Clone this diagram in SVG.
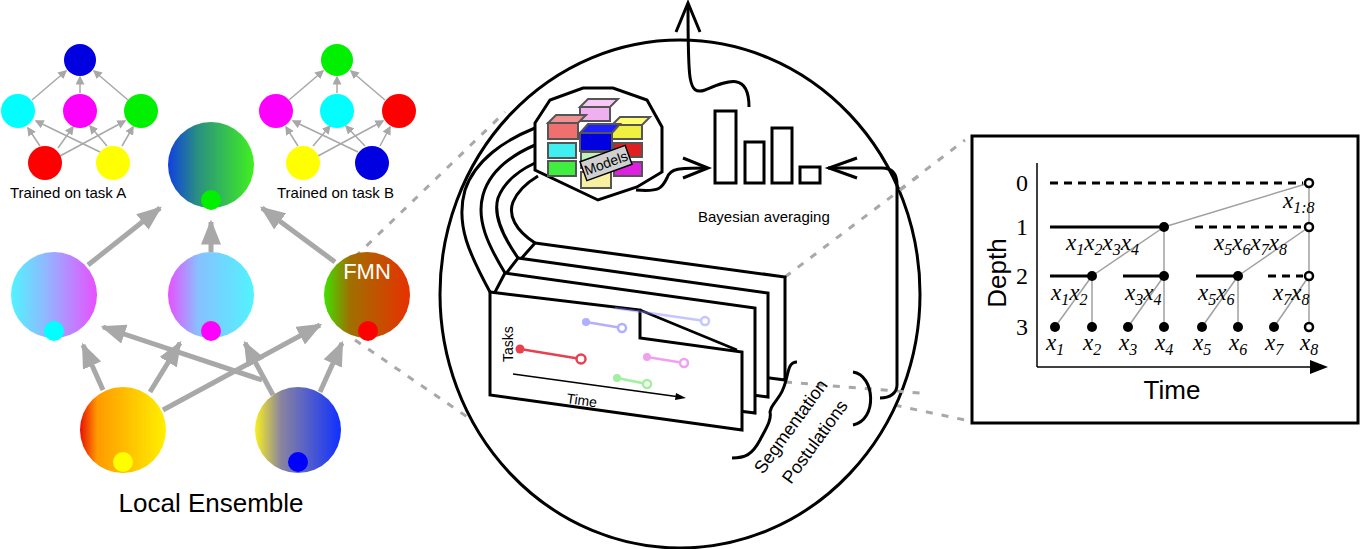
<svg xmlns="http://www.w3.org/2000/svg" width="1363" height="549" viewBox="0 0 1363 549">
<style>
.sa{stroke:#a8a8a8;stroke-width:1.5;fill:none}
.ba{stroke:#a8a8a8;stroke-width:5;fill:none}
.k{stroke:#000;fill:none;stroke-width:3}
.pg{fill:#fff;stroke:#000;stroke-width:3;stroke-linejoin:miter}
.dash{stroke:#a8a8a8;stroke-width:3;stroke-dasharray:7 9;fill:none}
.t{font-family:"Liberation Sans",Arial,sans-serif}
.m{font-family:"Liberation Serif","Times New Roman",serif;font-style:italic;font-size:23px}
.n{font-family:"Liberation Serif","Times New Roman",serif;font-size:24px}
.g{stroke:#a0a0a0;stroke-width:1.5}
.cb{stroke:#555;stroke-width:2}
</style>
<defs>
<marker id="sah" markerWidth="6" markerHeight="6" refX="5" refY="3" orient="auto" markerUnits="strokeWidth"><path d="M0,0 L6,3 L0,6 Z" fill="#a8a8a8"/></marker>
<marker id="bah" markerWidth="5" markerHeight="4" refX="4.5" refY="2" orient="auto" markerUnits="strokeWidth"><path d="M0,0 L5,2 L0,4 Z" fill="#a8a8a8"/></marker>
<linearGradient id="gTop"><stop offset="0" stop-color="#1040e0"/><stop offset="0.35" stop-color="#2a9080"/><stop offset="1" stop-color="#40f020"/></linearGradient>
<linearGradient id="gML"><stop offset="0" stop-color="#50f4ff"/><stop offset="0.4" stop-color="#90b8ff"/><stop offset="1" stop-color="#e850ff"/></linearGradient>
<linearGradient id="gMM"><stop offset="0" stop-color="#e850ff"/><stop offset="0.35" stop-color="#88c0ff"/><stop offset="1" stop-color="#50f4ff"/></linearGradient>
<linearGradient id="gMR"><stop offset="0" stop-color="#40e000"/><stop offset="0.3" stop-color="#a07000"/><stop offset="1" stop-color="#e83000"/></linearGradient>
<linearGradient id="gBL"><stop offset="0" stop-color="#e81000"/><stop offset="0.2" stop-color="#ff9a00"/><stop offset="1" stop-color="#fff000"/></linearGradient>
<linearGradient id="gBR"><stop offset="0" stop-color="#f8f020"/><stop offset="0.3" stop-color="#8a84a0"/><stop offset="1" stop-color="#1030ff"/></linearGradient>
</defs>
<rect width="1363" height="549" fill="#fff"/>

<g id="zoomlines">
<line class="dash" x1="355" y1="257" x2="505" y2="112"/>
<line class="dash" x1="355" y1="340" x2="495" y2="436"/>
<line class="dash" x1="785" y1="277" x2="965" y2="140"/>
<line class="dash" x1="785" y1="382" x2="965" y2="420"/>
</g>

<g id="connectors">
<g class="sa" marker-end="url(#sah)">
<line x1="32" y1="100" x2="66" y2="71"/><line x1="80" y1="93" x2="80" y2="77"/><line x1="128" y1="100" x2="94" y2="71"/>
<line x1="40" y1="146" x2="28" y2="128"/><line x1="58" y1="148" x2="73" y2="127"/><line x1="60" y1="156" x2="125" y2="121"/>
<line x1="100" y1="152" x2="36" y2="121"/><line x1="107" y1="146" x2="90" y2="126"/><line x1="122" y1="146" x2="133" y2="127"/>
<line x1="289" y1="100" x2="323" y2="71"/><line x1="337" y1="93" x2="337" y2="77"/><line x1="385" y1="100" x2="351" y2="71"/>
<line x1="298" y1="146" x2="286" y2="127"/><line x1="313" y1="146" x2="330" y2="126"/><line x1="318" y1="156" x2="383" y2="121"/>
<line x1="358" y1="152" x2="293" y2="121"/><line x1="365" y1="146" x2="346" y2="126"/><line x1="380" y1="146" x2="390" y2="127"/>
</g>
<g class="ba" marker-end="url(#bah)">
<line x1="88" y1="265" x2="160" y2="208"/>
<line x1="211" y1="252" x2="211" y2="222"/>
<line x1="335" y1="262" x2="262" y2="208"/>
<line x1="103" y1="390" x2="83" y2="345"/>
<line x1="262" y1="380" x2="103" y2="327"/>
<line x1="150" y1="392" x2="180" y2="343"/>
<line x1="273" y1="395" x2="245" y2="343"/>
<line x1="163" y1="410" x2="320" y2="325"/>
<line x1="320" y1="392" x2="342" y2="343"/>
</g>
</g>

<g id="smallA">
<circle cx="80" cy="60" r="16" fill="#0000e0"/>
<circle cx="18" cy="111" r="17" fill="#00ffff"/>
<circle cx="80" cy="111" r="17" fill="#ff00ff"/>
<circle cx="141" cy="111" r="17" fill="#00f000"/>
<circle cx="45" cy="163" r="17" fill="#ff0000"/>
<circle cx="113" cy="163" r="17" fill="#ffff00"/>
<text class="t" x="10" y="198" font-size="15">Trained on task A</text>
</g>
<g id="smallB">
<circle cx="337" cy="60" r="16" fill="#00f000"/>
<circle cx="276" cy="111" r="17" fill="#ff00ff"/>
<circle cx="337" cy="111" r="17" fill="#00ffff"/>
<circle cx="399" cy="111" r="17" fill="#ff0000"/>
<circle cx="303" cy="163" r="17" fill="#ffff00"/>
<circle cx="372" cy="163" r="17" fill="#0000e0"/>
<text class="t" x="277" y="198" font-size="15">Trained on task B</text>
</g>

<g id="nodeTop"><circle cx="211" cy="165" r="43" fill="url(#gTop)"/><circle cx="211" cy="200" r="10" fill="#00f000"/></g>
<g id="nodeML"><circle cx="54" cy="295" r="43" fill="url(#gML)"/><circle cx="54" cy="331" r="10" fill="#00ffff"/></g>
<g id="nodeMM"><circle cx="211" cy="295" r="43" fill="url(#gMM)"/><circle cx="211" cy="331" r="10" fill="#ff00ff"/></g>
<g id="nodeFMN"><circle cx="367" cy="295" r="43" fill="url(#gMR)"/><circle cx="368" cy="331" r="10" fill="#ff0000"/>
<text class="t" x="367" y="279" font-size="22" fill="#fff" text-anchor="middle">FMN</text></g>
<g id="nodeBL"><circle cx="123" cy="430" r="43" fill="url(#gBL)"/><circle cx="123" cy="462" r="10" fill="#ffff00"/></g>
<g id="nodeBR"><circle cx="298" cy="430" r="43" fill="url(#gBR)"/><circle cx="298" cy="462" r="10" fill="#0000ff"/></g>
<text class="t" x="211" y="512" font-size="26" text-anchor="middle">Local Ensemble</text>

<g id="lens">
<ellipse cx="680" cy="294" rx="240" ry="254" fill="#fff" stroke="#000" stroke-width="3"/>
</g>
<g id="zoomlines2">
<line class="dash" x1="785" y1="277" x2="920" y2="175"/>
<line class="dash" x1="785" y1="382" x2="920" y2="393"/>
</g>

<g id="out">
<path class="k" d="M749,107 C749,70 725,82 705,90 C688,96 688,80 688,5"/>
<path class="k" d="M676,32 L688,3 L700,32"/>
</g>

<g id="hist" fill="#fff" stroke="#000" stroke-width="3">
<rect x="715" y="111" width="21" height="72"/>
<rect x="745" y="142" width="19" height="41"/>
<rect x="772" y="128" width="20" height="55"/>
<rect x="800" y="167" width="20" height="16"/>
</g>
<text class="t" x="698" y="222" font-size="15">Bayesian averaging</text>

<g id="pages">
<path class="k" d="M490,292 C470,255 455,225 465,190 C475,160 505,140 535,128"/>
<path class="k" d="M505,273 C488,245 476,220 483,195 C490,170 512,155 535,145"/>
<path class="k" d="M518,258 C502,235 493,215 498,198 C505,180 520,170 535,163"/>
<path class="k" d="M535,243 C515,230 508,215 513,202 C518,190 528,182 538,176"/>
<path class="pg" d="M535,243 L785,277 L785,380 L520,345 L520,260 Z"/>
<path class="pg" d="M518,258 L768,293 L768,397 L505,362 L505,275 Z"/>
<path class="pg" d="M505,273 L755,308 L755,413 L495,380 L495,292 Z"/>
<path class="pg" d="M490,292 L640,310 L640,338 L742,352 L742,430 L490,395 Z"/>
<path fill="none" stroke="#000" stroke-width="2.5" d="M640,310 L737,350"/>
<g opacity="0.45">
<line x1="615" y1="308" x2="705" y2="321" stroke="#8080ff" stroke-width="2.5"/><circle cx="705" cy="321" r="4" fill="#fff" stroke="#8080ff" stroke-width="2.5"/>
</g>
<g stroke-width="2.5">
<line x1="586" y1="322" x2="622" y2="328" stroke="#b0b0ff"/><circle cx="586" cy="322" r="4" fill="#b0b0ff"/><circle cx="622" cy="328" r="4" fill="#fff" stroke="#b0b0ff"/>
<line x1="520" y1="349" x2="581" y2="359" stroke="#e84050"/><circle cx="520" cy="349" r="4.5" fill="#e84050"/><circle cx="581" cy="359" r="4.5" fill="#fff" stroke="#e84050"/>
<line x1="647" y1="357" x2="684" y2="363" stroke="#f0a0f0"/><circle cx="647" cy="357" r="4" fill="#f0a0f0"/><circle cx="684" cy="363" r="4" fill="#fff" stroke="#f0a0f0"/>
<line x1="617" y1="378" x2="647" y2="384" stroke="#a0f0a0"/><circle cx="617" cy="378" r="4" fill="#a0f0a0"/><circle cx="647" cy="384" r="4" fill="#fff" stroke="#a0f0a0"/>
</g>
<text class="t" font-size="14" transform="translate(513,362) rotate(-90)">Tasks</text>
<line x1="513" y1="374" x2="680" y2="397" stroke="#000" stroke-width="1.5"/>
<path d="M686,398 L676,393 L675,400 Z" fill="#000"/>
<text class="t" font-size="14" transform="translate(566,403) rotate(8)">Time</text>
</g>

<g id="models">
<path d="M535,123 L550,100 L583,88 L613,88 L647,100 L662,127 L662,172 L637,187 L598,200 L535,170 Z" fill="#fff" stroke="#000" stroke-width="3"/>
<g class="cb">
<rect x="580" y="107" width="30" height="14" fill="#f0b0f0"/><path d="M580,107 L588,99 L618,99 L610,107 Z" fill="#f8c8f8"/>
<rect x="548" y="123" width="30" height="16" fill="#f07070"/><path d="M548,123 L556,115 L586,115 L578,123 Z" fill="#f09090"/>
<rect x="612" y="125" width="30" height="14" fill="#f0f040"/><path d="M612,125 L620,117 L650,117 L642,125 Z" fill="#ffff70"/>
<rect x="548" y="143" width="28" height="15" fill="#40f0f0"/>
<rect x="614" y="143" width="28" height="14" fill="#e02020"/>
<rect x="548" y="161" width="28" height="15" fill="#40ee40"/>
<rect x="581" y="152" width="30" height="16" fill="#c0f0c0"/>
<rect x="581" y="172" width="30" height="16" fill="#f8f0a0"/>
<rect x="614" y="162" width="28" height="14" fill="#e020e0"/>
<rect x="580" y="133" width="32" height="18" fill="#0000e0"/><path d="M580,133 L588,124 L620,124 L612,133 Z" fill="#2020ff"/>
</g>
<g transform="translate(606,163) rotate(-20)">
<rect x="-24" y="-10" width="48" height="20" fill="#d0d0d0" stroke="#000" stroke-width="1.5"/>
<text class="t" font-size="14" text-anchor="middle" y="5">Models</text>
</g>
<path class="k" d="M636,190 C660,192 662,188 667,178 C670,168 680,168 706,168"/>
<path class="k" d="M683,158 L708,168 L683,178"/>
</g>

<g id="feedback">
<path class="k" d="M828,168 L882,168 C893,168 897,175 897,185 L897,385 C897,393 890,398 880,398"/>
<path class="k" d="M857,158 L829,168 L857,178"/>
<path class="k" d="M853,372 C875,375 878,420 853,425"/>
<path class="k" d="M797,362 C785,362 790,380 780,395 C770,410 772,405 770,412 C772,420 765,430 760,440 C752,455 745,458 732,458" stroke-width="2.5"/>
<text class="t" font-size="18" transform="translate(763,475) rotate(-54)">Segmentation</text>
<text class="t" font-size="18" transform="translate(791,485) rotate(-54)">Postulations</text>
</g>

<g id="depthchart">
<rect x="972" y="136" width="386" height="287" fill="#fff" stroke="#000" stroke-width="3"/>
<line x1="1037" y1="163" x2="1037" y2="367" stroke="#000" stroke-width="1.5"/>
<line x1="1037" y1="367" x2="1312" y2="367" stroke="#000" stroke-width="1.5"/>
<path d="M1328,367 L1310,360 L1310,374 Z" fill="#000"/>
<g class="n"><text x="1016" y="191">0</text><text x="1016" y="235">1</text><text x="1016" y="284">2</text><text x="1016" y="335">3</text></g>
<text class="t" font-size="26" transform="translate(1006,273) rotate(-90)" text-anchor="middle">Depth</text>
<text class="t" font-size="26" x="1172" y="399" text-anchor="middle">Time</text>
<g class="g">
<line x1="1164" y1="227" x2="1309" y2="183"/><line x1="1309" y1="183" x2="1309" y2="327"/>
<line x1="1092" y1="276" x2="1164" y2="227"/><line x1="1164" y1="227" x2="1164" y2="327"/>
<line x1="1238" y1="276" x2="1309" y2="227"/><line x1="1092" y1="276" x2="1092" y2="327"/>
<line x1="1055" y1="327" x2="1092" y2="276"/><line x1="1128" y1="327" x2="1164" y2="276"/>
<line x1="1202" y1="327" x2="1238" y2="276"/><line x1="1238" y1="276" x2="1238" y2="327"/>
<line x1="1274" y1="327" x2="1309" y2="276"/>
</g>
<g stroke="#000" stroke-width="3">
<line x1="1050" y1="183" x2="1303" y2="183" stroke-dasharray="8 6"/>
<line x1="1050" y1="227" x2="1164" y2="227"/>
<line x1="1195" y1="227" x2="1303" y2="227" stroke-dasharray="8 6"/>
<line x1="1050" y1="276" x2="1092" y2="276"/><line x1="1123" y1="276" x2="1164" y2="276"/>
<line x1="1196" y1="276" x2="1238" y2="276"/>
<line x1="1268" y1="276" x2="1303" y2="276" stroke-dasharray="8 6"/>
</g>
<g fill="#000">
<circle cx="1164" cy="227" r="5"/><circle cx="1092" cy="276" r="5"/><circle cx="1164" cy="276" r="5"/><circle cx="1238" cy="276" r="5"/>
<circle cx="1055" cy="327" r="5"/><circle cx="1092" cy="327" r="5"/><circle cx="1128" cy="327" r="5"/><circle cx="1164" cy="327" r="5"/>
<circle cx="1202" cy="327" r="5"/><circle cx="1238" cy="327" r="5"/><circle cx="1274" cy="327" r="5"/>
</g>
<g fill="#fff" stroke="#000" stroke-width="2.5">
<circle cx="1309" cy="183" r="4"/><circle cx="1309" cy="227" r="4"/><circle cx="1309" cy="276" r="4"/><circle cx="1309" cy="327" r="4"/>
</g>
<g class="m">
<text x="1283" y="208">x<tspan font-size="16" dy="5">1:8</tspan></text>
<text x="1066" y="250">x<tspan font-size="16" dy="5">1</tspan><tspan dy="-5">x</tspan><tspan font-size="16" dy="5">2</tspan><tspan dy="-5">x</tspan><tspan font-size="16" dy="5">3</tspan><tspan dy="-5">x</tspan><tspan font-size="16" dy="5">4</tspan></text>
<text x="1214" y="250">x<tspan font-size="16" dy="5">5</tspan><tspan dy="-5">x</tspan><tspan font-size="16" dy="5">6</tspan><tspan dy="-5">x</tspan><tspan font-size="16" dy="5">7</tspan><tspan dy="-5">x</tspan><tspan font-size="16" dy="5">8</tspan></text>
<text x="1051" y="300">x<tspan font-size="16" dy="5">1</tspan><tspan dy="-5">x</tspan><tspan font-size="16" dy="5">2</tspan></text>
<text x="1125" y="300">x<tspan font-size="16" dy="5">3</tspan><tspan dy="-5">x</tspan><tspan font-size="16" dy="5">4</tspan></text>
<text x="1198" y="300">x<tspan font-size="16" dy="5">5</tspan><tspan dy="-5">x</tspan><tspan font-size="16" dy="5">6</tspan></text>
<text x="1273" y="300">x<tspan font-size="16" dy="5">7</tspan><tspan dy="-5">x</tspan><tspan font-size="16" dy="5">8</tspan></text>
<text x="1046" y="350">x<tspan font-size="16" dy="5">1</tspan></text>
<text x="1083" y="350">x<tspan font-size="16" dy="5">2</tspan></text>
<text x="1119" y="350">x<tspan font-size="16" dy="5">3</tspan></text>
<text x="1155" y="350">x<tspan font-size="16" dy="5">4</tspan></text>
<text x="1193" y="350">x<tspan font-size="16" dy="5">5</tspan></text>
<text x="1229" y="350">x<tspan font-size="16" dy="5">6</tspan></text>
<text x="1265" y="350">x<tspan font-size="16" dy="5">7</tspan></text>
<text x="1300" y="350">x<tspan font-size="16" dy="5">8</tspan></text>
</g>
</g>
</svg>
